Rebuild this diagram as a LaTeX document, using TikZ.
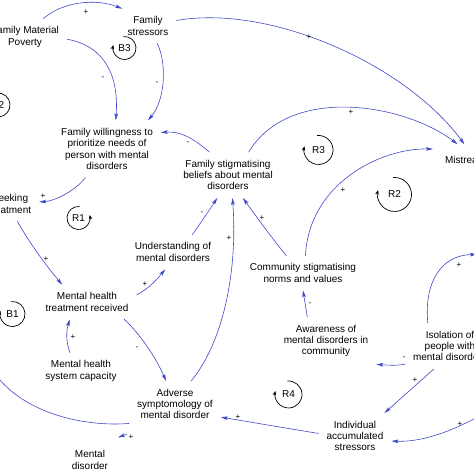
\documentclass[tikz,border=0pt]{standalone}
\usepackage{fontspec}
\setmainfont{Liberation Sans}
\usetikzlibrary{arrows.meta}
\definecolor{linkblue}{RGB}{64,72,200}

\begin{document}
\begin{tikzpicture}[x=1pt,y=1pt,
  var/.style={align=center,inner sep=0pt,outer sep=8pt,font=\fontsize{10}{11.3}\selectfont},
  looplabel/.style={inner sep=0pt,font=\fontsize{10}{11.3}\selectfont},
  sign/.style={inner sep=0pt,font=\fontsize{8}{9}\selectfont},
  link/.style={draw=linkblue,line width=0.6pt,-{Stealth[length=7pt,width=3.6pt,inset=1.5pt]}},
  loopmark/.style={draw=black,line width=0.7pt,-{Stealth[length=4.5pt,width=3.6pt]}}]

\useasboundingbox (0,0) rectangle (474,474);
\clip (0,0) rectangle (474,474);

\node[var](pov) at (25,437){Family Material\\Poverty};
\node[var](fst) at (148,448){Family\\stressors};
\node[var](will) at (107,325){Family willingness to\\prioritize needs of\\person with mental\\disorders};
\node[var](fsb) at (228,299){Family stigmatising\\beliefs about mental\\disorders};
\node[var,outer sep=12pt,anchor=west](mis) at (433,314){Mistreatment};
\node[var](seek) at (10,270){Seeking\\treatment};
\node[var](und) at (173,222){Understanding of\\mental disorders};
\node[var](mht) at (87,172){Mental health\\treatment received};
\node[var](com) at (303,201){Community stigmatising\\norms and values};
\node[var](awa) at (326,133){Awareness of\\mental disorders in\\community};
\node[var](iso) at (450,128){Isolation of\\people with\\mental disorders};
\node[var](cap) at (81,103){Mental health\\system capacity};
\node[var](adv) at (175,70){Adverse\\symptomology of\\mental disorder};
\node[var](ias) at (355,38){Individual\\accumulated\\stressors};
\node[var](md) at (90,14){Mental\\disorder};

\node[looplabel](lb3) at (124.5,426){B3};
\node[looplabel](lb2) at (-2,369){B2};
\node[looplabel](lr3) at (318.5,324){R3};
\node[looplabel](lr2) at (394.5,279.5){R2};
\node[looplabel](lr1) at (78.5,256){R1};
\node[looplabel](lb1) at (12.5,160){B1};
\node[looplabel](lr4) at (288.5,79.5){R4};

\draw[loopmark] (lb3.center) ++(95:11.5) arc[start angle=95,end angle=-195,radius=11.5];
\draw[loopmark] (lb2.center) ++(95:12) arc[start angle=95,end angle=-195,radius=12];
\draw[loopmark] (lr3.center) ++(95:14.5) arc[start angle=95,end angle=-195,radius=14.5];
\draw[loopmark] (lr2.center) ++(95:17) arc[start angle=95,end angle=-195,radius=17];
\draw[loopmark] (lr1.center) ++(85:11.5) arc[start angle=85,end angle=375,radius=11.5];
\draw[loopmark] (lb1.center) ++(95:12.5) arc[start angle=95,end angle=-195,radius=12.5];
\draw[loopmark] (lr4.center) ++(95:13.5) arc[start angle=95,end angle=-195,radius=13.5];

\coordinate(qend) at (477,219.5);
\coordinate(rstart) at (476,56);
\coordinate(vend) at (-8,104);
\coordinate(tinya) at (127,40);
\coordinate(tinyb) at (118,36.5);

\draw[link] (pov.45) .. controls (62,472) and (95,476) .. (fst.146);
\draw[link] (pov.357) .. controls (105,428) and (119,398) .. (will.73);
\draw[link] (fst.298) .. controls (168,408) and (164,372) .. (will.35);
\draw[link] (fsb.129) .. controls (193,336) and (180,343) .. (will.17);
\draw[link] (will.233) .. controls (75,283) and (55,273) .. (seek.4);
\draw[link] (seek.293) .. controls (30,230) and (48,206) .. (mht.145);
\draw[link] (mht.8) .. controls (150,186) and (158,196) .. (und.246);
\draw[link] (und.42) .. controls (200,250) and (208,262) .. (fsb.245);
\draw[link] (adv.55) .. controls (222,130) and (238,200) .. (fsb.281);
\draw[link] (com.134) .. controls (272,236) and (258,255) .. (fsb.303);
\draw[link] (com.82) .. controls (309,290) and (380,326) .. (mis.165);
\draw[link] (fsb.48) .. controls (290,390) and (405,370) .. (mis.136);
\draw[link] (fst.11) .. controls (270,470) and (405,410) .. (mis.121);
\draw[link] (awa.128) -- (com.270);
\draw[link] (iso.202) .. controls (396,108) and (386,109) .. (awa.335);
\draw[link] (iso.235) -- (ias.38);
\draw[link] (iso.134) .. controls (424,190) and (440,219) .. (qend);
\draw[link] (rstart) .. controls (445,40) and (420,32) .. (ias.352);
\draw[link] (ias.176) .. controls (285,46) and (250,52) .. (adv.344);
\draw[link] (mht.335) .. controls (140,140) and (155,118) .. (adv.111);
\draw[link] (cap.121) .. controls (66,132) and (66,142) .. (mht.225);
\draw[link] (adv.203) .. controls (85,47) and (25,60) .. (vend);
\draw[link] (tinya) -- (tinyb);

\node[sign](s1) at (86,462){+};
\node[sign](s2) at (103,396){-};
\node[sign](s3) at (157,391){-};
\node[sign](s4) at (188,331){-};
\node[sign](s5) at (43,278){+};
\node[sign](s6) at (46,215){+};
\node[sign](s7) at (145,190){+};
\node[sign](s8) at (202,261){-};
\node[sign](s9) at (229,236){+};
\node[sign](s10) at (262,256){+};
\node[sign](s11) at (343,284){+};
\node[sign](s12) at (351,362){+};
\node[sign](s13) at (309,437){+};
\node[sign](s14) at (310,170){-};
\node[sign](s15) at (404,116){-};
\node[sign](s16) at (415,94){+};
\node[sign](s17) at (459,209){+};
\node[sign](s18) at (460,50){+};
\node[sign](s19) at (238,57){+};
\node[sign](s20) at (137,126){-};
\node[sign](s21) at (73,137){+};
\node[sign](s22) at (131,37){+};

\end{tikzpicture}
\end{document}
